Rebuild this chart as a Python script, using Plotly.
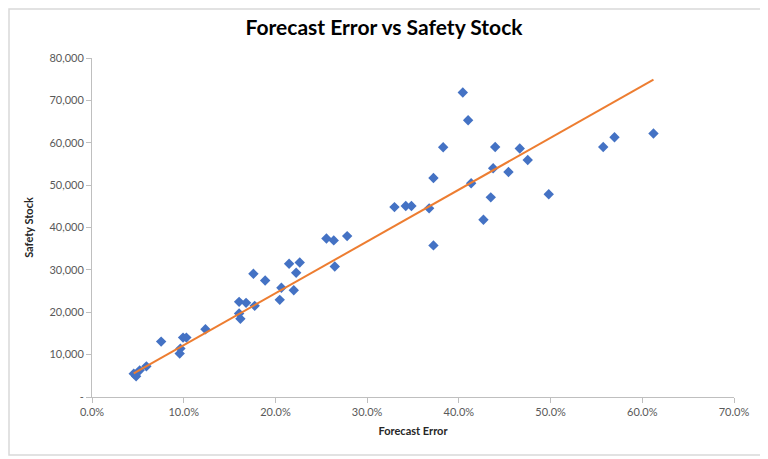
import numpy as np
import plotly.graph_objects as go

# forecast error (fraction) and safety stock (units)
forecast_error = [
    0.0455, 0.0481, 0.0520, 0.0593, 0.0754, 0.0956, 0.0964, 0.0993, 0.1029, 0.1237,
    0.1604, 0.1604, 0.1618, 0.1680, 0.1760, 0.1774, 0.1888, 0.2047, 0.2065, 0.2149,
    0.2200, 0.2226, 0.2265, 0.2556, 0.2636, 0.2647, 0.2782, 0.3298, 0.3421, 0.3483,
    0.3676, 0.3723, 0.3723, 0.3829, 0.4043, 0.4101, 0.4134, 0.4268, 0.4348, 0.4374,
    0.4396, 0.4541, 0.4664, 0.4751, 0.4980, 0.5574, 0.5697, 0.6122,
]
safety_stock = [
    5510, 4870, 6290, 7230, 13070, 10240, 11420, 14020, 14020, 15980,
    19690, 22460, 18440, 22220, 29080, 21510, 27490, 22930, 25770, 31440,
    25200, 29310, 31750, 37420, 36950, 30800, 37970, 44820, 45060, 45060,
    44520, 51680, 35770, 58940, 71870, 65320, 50430, 41840, 47120, 53970,
    59010, 53100, 58630, 55930, 47830, 59010, 61300, 62180,
]

x_ticks = [0, 0.1, 0.2, 0.3, 0.4, 0.5, 0.6, 0.7]
x_ticklabels = ["0.0%", "10.0%", "20.0%", "30.0%", "40.0%", "50.0%", "60.0%", "70.0%"]
y_ticks = [0, 10000, 20000, 30000, 40000, 50000, 60000, 70000, 80000]
y_ticklabels = ["-", "10,000", "20,000", "30,000", "40,000", "50,000", "60,000", "70,000", "80,000"]

# linear trendline with the intercept fixed at zero, across the data range
fe = np.array(forecast_error)
ss = np.array(safety_stock)
slope = (fe * ss).sum() / (fe * fe).sum()
trend_x = [fe.min(), fe.max()]
trend_y = [slope * v for v in trend_x]

FONT = "Lato"
AXIS_COLOR = "#bfbfbf"
TEXT_COLOR = "#595959"

# the page body adds an 8px margin, so the figure is 8px smaller and shifted
W, H = 760, 451
L, R, T, B = 84, 34, 50, 62
PW, PH = W - L - R, H - T - B

fig = go.Figure()
fig.add_trace(go.Scatter(
    x=forecast_error, y=safety_stock, mode="markers",
    marker=dict(symbol="diamond", size=8, color="#4472c4"),
    showlegend=False,
))
fig.add_trace(go.Scatter(
    x=trend_x, y=trend_y, mode="lines",
    line=dict(color="#ed7d31", width=2),
    showlegend=False,
))

fig.update_xaxes(
    range=[0, 0.7], tickvals=x_ticks, ticktext=x_ticklabels,
    showgrid=False, zeroline=False, showline=True, linecolor=AXIS_COLOR, linewidth=1,
    ticks="outside", ticklen=5, tickcolor=AXIS_COLOR,
    tickfont=dict(family=FONT, size=11, color=TEXT_COLOR),
    title=dict(text="<b>Forecast Error</b>", font=dict(family=FONT, size=11, color="#262626"), standoff=10),
)
fig.update_yaxes(
    range=[0, 80000], tickvals=y_ticks, ticktext=y_ticklabels,
    showgrid=False, zeroline=False, showline=True, linecolor=AXIS_COLOR, linewidth=1,
    ticks="outside", ticklen=5, tickcolor=AXIS_COLOR,
    tickfont=dict(family=FONT, size=11, color=TEXT_COLOR),
    title=dict(text="<b>Safety Stock</b>", font=dict(family=FONT, size=11, color="#262626"), standoff=13),
)

# chart-area border, in figure pixels: left 1, right 754, top 1, bottom 447
fig.update_layout(
    width=W, height=H,
    margin=dict(l=L, r=R, t=T, b=B),
    paper_bgcolor="white", plot_bgcolor="white",
    title=dict(
        text="<b>Forecast Error vs Safety Stock</b>",
        x=(384 - 8) / W, xanchor="center", xref="container",
        y=1 - 20 / H, yanchor="middle", yref="container",
        font=dict(family=FONT, size=21, color="black"),
    ),
    shapes=[dict(
        type="rect", xref="paper", yref="paper",
        x0=(1 - L) / PW, x1=(754 - L) / PW,
        y0=(H - B - 447) / PH, y1=(H - B - 1) / PH,
        line=dict(color="#d9d9d9", width=1.5),
    )],
)

fig.write_html("out.html")
